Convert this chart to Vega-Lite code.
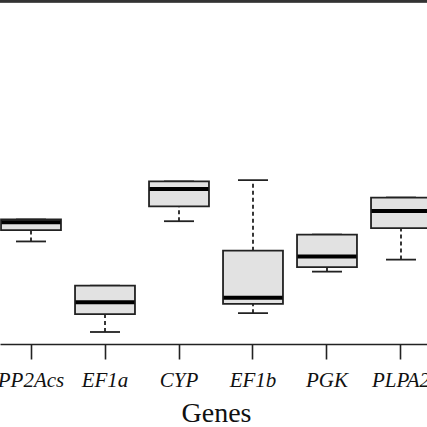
{
  "$schema": "https://vega.github.io/schema/vega-lite/v6.json",
  "width": 432,
  "height": 343,
  "padding": {"top": 1, "left": 0, "right": 0, "bottom": 83},
  "autosize": {"type": "none"},
  "background": "white",
  "config": {"view": {"stroke": null}, "tick": {"opacity": 1}},
  "data": {"values": [
    {"gene": "PP2Acs", "lo": 2.99, "q1": 3.32, "med": 3.55, "q3": 3.63, "hi": 3.63},
    {"gene": "EF1a", "lo": 0.35, "q1": 0.87, "med": 1.22, "q3": 1.70, "hi": 1.70},
    {"gene": "CYP", "lo": 3.58, "q1": 4.01, "med": 4.52, "q3": 4.74, "hi": 4.74},
    {"gene": "EF1b", "lo": 0.90, "q1": 1.17, "med": 1.35, "q3": 2.72, "hi": 4.78},
    {"gene": "PGK", "lo": 2.11, "q1": 2.24, "med": 2.55, "q3": 3.19, "hi": 3.19},
    {"gene": "PLPA2", "lo": 2.46, "q1": 3.38, "med": 3.88, "q3": 4.27, "hi": 4.27}
  ]},
  "layer": [
    {
      "mark": {"type": "rule", "strokeDash": [4, 3], "strokeWidth": 1.8, "color": "#222"},
      "encoding": {
        "x": {"field": "gene", "type": "nominal", "sort": ["PP2Acs", "EF1a", "CYP", "EF1b", "PGK", "PLPA2"],
          "scale": {"paddingInner": 0.19, "paddingOuter": 0.014},
          "axis": {"orient": "bottom", "title": "Genes", "labelAngle": 0, "labelFont": "Liberation Serif", "labelFontStyle": "italic", "labelFontSize": 21, "labelColor": "#111", "labelPadding": 10, "labelOverlap": false, "labelBound": false, "tickSize": 15, "tickWidth": 1.6, "tickColor": "#222", "domainColor": "#222", "domainWidth": 1.6, "titleFont": "Liberation Serif", "titleFontWeight": "normal", "titleFontSize": 28, "titleColor": "#111", "titlePadding": 9}},
        "y": {"field": "lo", "type": "quantitative", "scale": {"domain": [0, 10]}, "axis": null},
        "y2": {"field": "q1"}
      }
    },
    {
      "mark": {"type": "rule", "strokeDash": [4, 3], "strokeWidth": 1.8, "color": "#222"},
      "encoding": {
        "x": {"field": "gene", "type": "nominal", "sort": ["PP2Acs", "EF1a", "CYP", "EF1b", "PGK", "PLPA2"]},
        "y": {"field": "q3", "type": "quantitative"}, "y2": {"field": "hi"}}
    },
    {
      "mark": {"type": "tick", "size": 30, "thickness": 1.8, "color": "#222"},
      "encoding": {
        "x": {"field": "gene", "type": "nominal", "sort": ["PP2Acs", "EF1a", "CYP", "EF1b", "PGK", "PLPA2"]},
        "y": {"field": "lo", "type": "quantitative"}}
    },
    {
      "mark": {"type": "tick", "size": 30, "thickness": 1.8, "color": "#222"},
      "encoding": {
        "x": {"field": "gene", "type": "nominal", "sort": ["PP2Acs", "EF1a", "CYP", "EF1b", "PGK", "PLPA2"]},
        "y": {"field": "hi", "type": "quantitative"}}
    },
    {
      "mark": {"type": "bar", "fill": "#e2e2e2", "stroke": "#222", "strokeWidth": 1.8},
      "encoding": {
        "x": {"field": "gene", "type": "nominal", "sort": ["PP2Acs", "EF1a", "CYP", "EF1b", "PGK", "PLPA2"]},
        "y": {"field": "q3", "type": "quantitative"}, "y2": {"field": "q1"}}
    },
    {
      "mark": {"type": "tick", "size": 59, "thickness": 4, "color": "#000"},
      "encoding": {
        "x": {"field": "gene", "type": "nominal", "sort": ["PP2Acs", "EF1a", "CYP", "EF1b", "PGK", "PLPA2"]},
        "y": {"field": "med", "type": "quantitative"}}
    },
    {
      "mark": {"type": "rule", "strokeWidth": 2.5, "color": "#333"},
      "encoding": {"y": {"datum": 10, "type": "quantitative"}}
    }
  ]
}
